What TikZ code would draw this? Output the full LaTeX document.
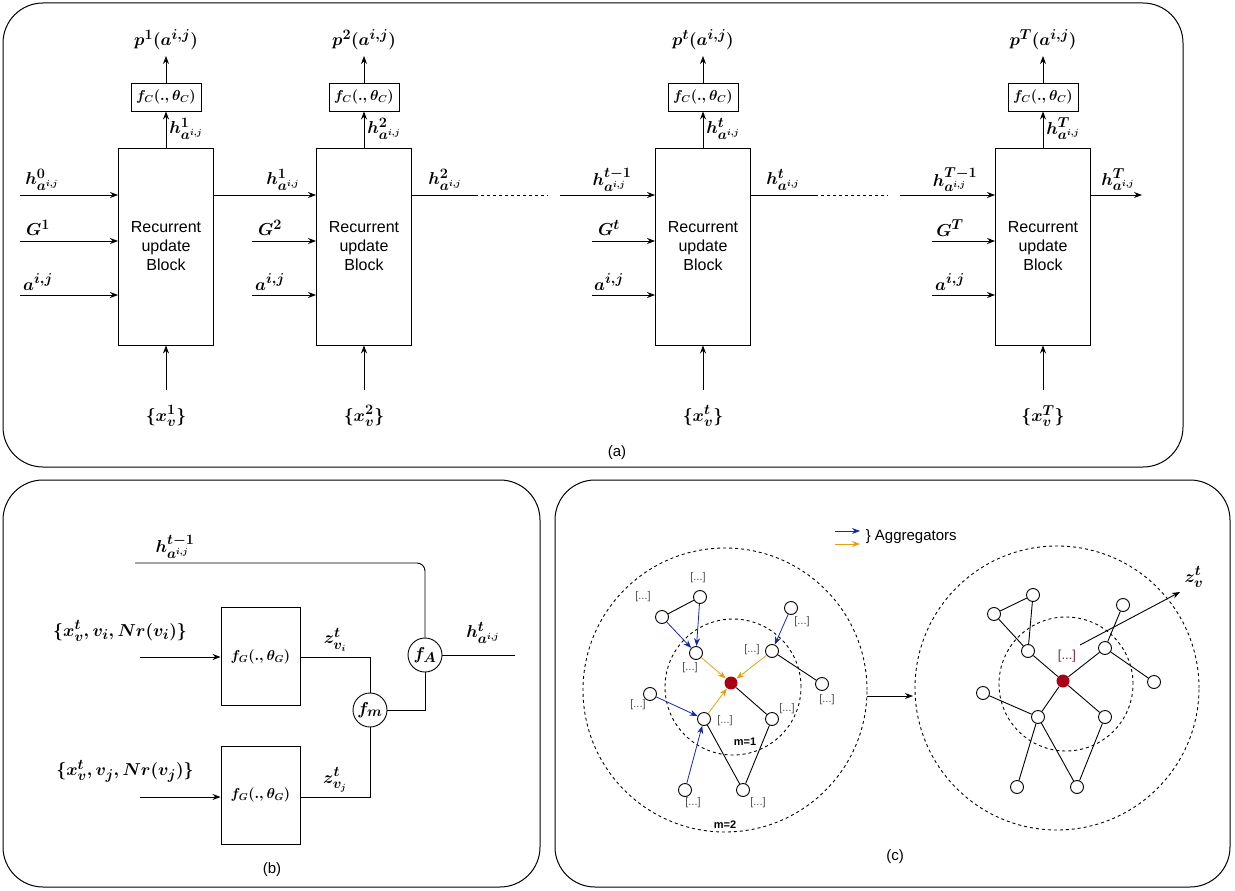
\documentclass[tikz,border=0pt]{standalone}
\usepackage{fontspec}
\setsansfont{Liberation Sans}
\usetikzlibrary{arrows.meta}
\definecolor{aggblue}{RGB}{20,40,170}
\definecolor{aggorange}{RGB}{225,160,20}
\definecolor{redn}{RGB}{170,0,20}
\definecolor{maroon}{RGB}{130,40,70}
\begin{document}
\begin{tikzpicture}[x=1pt,y=-1pt,line width=0.9pt,
  >={Stealth[length=8pt,width=6pt]},
  panel/.style={draw,rounded corners=40pt,line width=1pt},
  blk/.style={draw,minimum width=95pt,minimum height=197pt,font=\sffamily\fontsize{16}{19}\selectfont,align=center,inner sep=0pt},
  fc/.style={draw,minimum width=70pt,minimum height=28pt,inner sep=0pt,font=\boldmath\fontsize{14}{16}\selectfont},
  fg/.style={draw,minimum width=79pt,minimum height=98pt,inner sep=0pt,font=\boldmath\fontsize{14}{16}\selectfont},
  ml/.style={font=\boldmath\fontsize{19}{22}\selectfont,inner sep=1pt},
  captxt/.style={font=\sffamily\fontsize{15}{18}\selectfont},
  circ/.style={draw,circle,minimum size=34pt,inner sep=0pt,font=\boldmath\fontsize{19}{22}\selectfont},
  gn/.style={draw,circle,fill=white,minimum size=13pt,inner sep=0pt},
  rn/.style={circle,fill=redn,minimum size=13pt,inner sep=0pt},
  dl/.style={font=\sffamily\fontsize{11}{13}\selectfont,text=black!70,inner sep=0pt},
  ring/.style={draw,dashed},
  bl/.style={->,aggblue,thick},
  ol/.style={->,aggorange,thick}]
\useasboundingbox (0,0) rectangle (1235,891);
% ---------- panel (a)
\draw[panel] (3,3) rectangle (1183,467);
\node[captxt] (la) at (617,453) {(a)};
\foreach \n/\x/\s in {1/166/1,2/364/2,3/703/t,4/1043/T}{
  \node[blk] (b\n) at (\x,246.5) {Recurrent\\update\\Block};
  \node[fc] (f\n) at (\x,97) {$f_C(.,\theta_C)$};
  \node[ml] (p\n) at (\x,40) {$p^{\s}(a^{i,j})$};
  \coordinate (pt\n) at (\x,56);
  \draw[->] (b\n.north) -- (f\n.south);
  \draw[->] (f\n.north) -- (pt\n);
  \node[ml,anchor=west] (hh\n) at (\x+2,129) {$h^{\s}_{a^{i,j}}$};
  \coordinate (xs\n) at (\x,390);
  \node[ml] (x\n) at (\x,416) {$\{x^{\s}_v\}$};
  \draw[->] (xs\n) -- (b\n.south);
}
% inputs block1
\coordinate (i1a) at (20,195); \coordinate (i1b) at (20,241); \coordinate (i1c) at (20,295);
\draw[->] (i1a) -- (i1a -| b1.west); \draw[->] (i1b) -- (i1b -| b1.west); \draw[->] (i1c) -- (i1c -| b1.west);
\node[ml] (l1a) at (42,180) {$h^0_{a^{i,j}}$};
\node[ml] (l1b) at (38,228) {$G^1$};
\node[ml] (l1c) at (38,282) {$a^{i,j}$};
\draw[->] (b1.east |- i1a) -- (b2.west |- i1a);
\node[ml] (l2a) at (283,180) {$h^1_{a^{i,j}}$};
\coordinate (i2b) at (252,241); \coordinate (i2c) at (252,295);
\draw[->] (i2b) -- (i2b -| b2.west); \draw[->] (i2c) -- (i2c -| b2.west);
\node[ml] (l2b) at (270,228) {$G^2$};
\node[ml] (l2c) at (270,282) {$a^{i,j}$};
% between 2 and 3
\coordinate (d1) at (475,195); \coordinate (d2) at (548,195); \coordinate (d3) at (560,195);
\draw (b2.east |- i1a) -- (d1);
\draw[dashed] (d1) -- (d2);
\draw[->] (d3) -- (b3.west |- i1a);
\node[ml] (l2o) at (445,180) {$h^2_{a^{i,j}}$};
\node[ml] (l3a) at (612,180) {$h^{t-1}_{a^{i,j}}$};
\coordinate (i3b) at (592,241); \coordinate (i3c) at (592,295);
\draw[->] (i3b) -- (i3b -| b3.west); \draw[->] (i3c) -- (i3c -| b3.west);
\node[ml] (l3b) at (609,228) {$G^t$};
\node[ml] (l3c) at (609,282) {$a^{i,j}$};
% between 3 and 4
\coordinate (e1) at (815,195); \coordinate (e2) at (888,195); \coordinate (e3) at (900,195);
\draw (b3.east |- i1a) -- (e1);
\draw[dashed] (e1) -- (e2);
\draw[->] (e3) -- (b4.west |- i1a);
\node[ml] (l3o) at (783,180) {$h^t_{a^{i,j}}$};
\node[ml] (l4a) at (955,180) {$h^{T-1}_{a^{i,j}}$};
\coordinate (i4b) at (932,241); \coordinate (i4c) at (932,295);
\draw[->] (i4b) -- (i4b -| b4.west); \draw[->] (i4c) -- (i4c -| b4.west);
\node[ml] (l4b) at (950,228) {$G^T$};
\node[ml] (l4c) at (950,282) {$a^{i,j}$};
\coordinate (o4) at (1142,195);
\draw[->] (b4.east |- i1a) -- (o4);
\node[ml] (l4o) at (1118,180) {$h^T_{a^{i,j}}$};
% ---------- panel (b)
\draw[panel] (3,480) rectangle (540,887);
\node[captxt] (lb) at (272,870) {(b)};
\node[fg] (g1) at (260.5,656.5) {$f_G(.,\theta_G)$};
\node[fg] (g2) at (260.5,795) {$f_G(.,\theta_G)$};
\node[circ] (fA) at (425,655) {$f_A$};
\node[circ] (fm) at (370,710) {$f_m$};
\coordinate (hs) at (135,563);
\node[ml] (hl) at (175,547) {$h^{t-1}_{a^{i,j}}$};
\draw[rounded corners=8pt] (hs) -- (hs -| fA) -- (fA.north);
\coordinate (in1) at (140,657); \coordinate (in2) at (140,797);
\draw[->] (in1) -- (g1.west |- in1);
\draw[->] (in2) -- (g2.west |- in2);
\node[ml] (il1) at (120,631) {$\{x^t_v,v_i,Nr(v_i)\}$};
\node[ml] (il2) at (125,771) {$\{x^t_v,v_j,Nr(v_j)\}$};
\draw (g1.east |- in1) -- (in1 -| fm) -- (fm.north);
\draw (g2.east |- in2) -- (in2 -| fm) -- (fm.south);
\node[ml] (z1) at (335,640) {$z^t_{v_i}$};
\node[ml] (z2) at (335,780) {$z^t_{v_j}$};
\draw (fm.east) -- (fm -| fA) -- (fA.south);
\coordinate (ho) at (515,655);
\draw (fA.east) -- (ho);
\node[ml] (hol) at (483,633) {$h^t_{a^{i,j}}$};
% ---------- panel (c)
\draw[panel] (555,480) rectangle (1230,887);
\node[captxt] (lc) at (895,857) {(c)};
\coordinate (lg1) at (835,531); \coordinate (lg2) at (860,531);
\coordinate (lg3) at (835,544); \coordinate (lg4) at (860,544);
\draw[bl] (lg1) -- (lg2); \draw[ol] (lg3) -- (lg4);
\node[captxt,anchor=west] (agg) at (862,537) {\} Aggregators};
% left graph
\node[ring,circle,minimum size=284pt] (lo) at (725,690) {};
\node[ring,circle,minimum size=136pt] (li) at (733,687) {};
\node[rn] (R) at (731,683) {};
\node[gn] (A) at (696,653) {}; \node[gn] (B) at (772,651) {};
\node[gn] (C) at (704,719) {}; \node[gn] (D) at (772,719) {};
\node[gn] (E) at (662,617) {}; \node[gn] (F) at (700,597) {};
\node[gn] (G) at (791,608) {}; \node[gn] (H) at (822,684) {};
\node[gn] (I) at (650,694) {}; \node[gn] (J) at (685,790) {};
\node[gn] (K) at (743,790) {};
\draw (E) -- (F); \draw (B) -- (H); \draw (R) -- (D); \draw (C) -- (K); \draw (D) -- (K);
\draw[bl] (F) -- (A); \draw[bl] (E) -- (A); \draw[bl] (G) -- (B);
\draw[bl] (I) -- (C); \draw[bl] (J) -- (C);
\draw[ol] (A) -- (R); \draw[ol] (B) -- (R); \draw[ol] (C) -- (R);
\node[dl] (d01) at (698,578) {[...]};
\node[dl] (d02) at (643,597) {[...]};
\node[dl] (d03) at (802,622) {[...]};
\node[dl] (d04) at (752,650) {[...]};
\node[dl] (d05) at (690,668) {[...]};
\node[dl] (d06) at (827,700) {[...]};
\node[dl] (d07) at (787,709) {[...]};
\node[dl] (d08) at (638,705) {[...]};
\node[dl] (d09) at (725,721) {[...]};
\node[dl] (d10) at (693,803) {[...]};
\node[dl] (d11) at (758,803) {[...]};
\node[font=\sffamily\fontsize{11}{13}\selectfont\bfseries] (m1) at (745,742) {m=1};
\node[font=\sffamily\fontsize{11}{13}\selectfont\bfseries] (m2) at (725,825) {m=2};
% middle arrow
\coordinate (ma) at (913,696);
\draw[->] (lo.east |- ma) -- (ma);
% right graph
\node[ring,circle,minimum size=284pt] (ro) at (1057,688) {};
\node[ring,circle,minimum size=134pt] (ri) at (1066,684) {};
\node[rn] (r) at (1063,681) {};
\node[gn] (a) at (1028,651) {}; \node[gn] (b) at (1105,648) {};
\node[gn] (c) at (1038,717) {}; \node[gn] (d) at (1105,717) {};
\node[gn] (e) at (994,614) {}; \node[gn] (f) at (1033,595) {};
\node[gn] (g) at (1123,605) {}; \node[gn] (h) at (1154,682) {};
\node[gn] (i) at (983,693) {}; \node[gn] (j) at (1017,787) {};
\node[gn] (k) at (1077,787) {};
\draw (e) -- (f); \draw (f) -- (a); \draw (e) -- (a); \draw (a) -- (r); \draw (b) -- (r);
\draw (g) -- (b); \draw (b) -- (h); \draw (r) -- (c); \draw (r) -- (d); \draw (i) -- (c);
\draw (c) -- (j); \draw (c) -- (k); \draw (d) -- (k);
\node[dl,text=maroon,font=\sffamily\fontsize{13}{15}\selectfont] (rl) at (1067,656) {[...]};
\coordinate (zs) at (1080,645); \coordinate (ze) at (1180,592);
\draw[->] (zs) -- (ze);
\node[ml] (zl) at (1194,577) {$z^t_v$};
\end{tikzpicture}
\end{document}
